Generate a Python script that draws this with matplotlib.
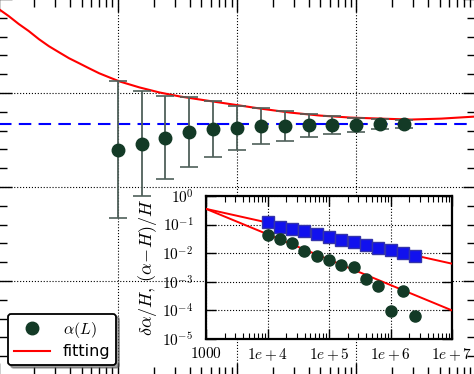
import numpy as np
import matplotlib
matplotlib.use("Agg")
import matplotlib.pyplot as plt
from matplotlib.ticker import LogLocator, MultipleLocator, NullFormatter

plt.rcParams["mathtext.fontset"] = "cm"

# main panel: alpha(L) with error bars
L = [10000, 15849, 25119, 39811, 63096, 100000, 158489, 251189,
     398107, 630957, 1000000, 1584893, 2511886]
alpha = [0.8396, 0.8460, 0.8524, 0.8588, 0.8620, 0.8631, 0.8645,
         0.8649, 0.8656, 0.8661, 0.8663, 0.8665, 0.8665]
alpha_err = [0.0727, 0.0556, 0.0439, 0.0374, 0.0299, 0.0235, 0.0193,
             0.0155, 0.0123, 0.0096, 0.0075, 0.0053, 0.0043]
H = 0.8668

# fitted curve (log10 L, alpha)
fit_logL = [3.0, 3.084, 3.169, 3.253, 3.338, 3.422, 3.506, 3.591, 3.675,
            3.759, 3.844, 3.928, 4.013, 4.181, 4.350, 4.519, 4.688, 4.857,
            5.025, 5.194, 5.447, 5.700, 5.954, 6.207, 6.460, 6.713, 7.0]
fit_alpha = [0.9893, 0.9818, 0.9733, 0.9658, 0.9572, 0.9497, 0.9433,
             0.9369, 0.9316, 0.9262, 0.9209, 0.9166, 0.9123, 0.9059,
             0.9005, 0.8963, 0.8930, 0.8898, 0.8866, 0.8834, 0.8791,
             0.8759, 0.8738, 0.8727, 0.8717, 0.8727, 0.8749]

# inset: relative deviations
rel_err = [0.120, 0.0813, 0.0692, 0.0575, 0.0457, 0.0363, 0.0295, 0.0240,
           0.0195, 0.0158, 0.0126, 0.0100, 0.0081]
rel_dev = [0.0417, 0.0316, 0.0224, 0.0120, 0.0081, 0.0059, 0.0039, 0.0032,
           0.00123, 0.00074, 9.8e-5, 4.6e-4, 6.5e-5]
line_L = [1e3, 1e7]
line_err = [0.355, 0.0043]
line_dev = [0.355, 1.0e-4]

fig = plt.figure(figsize=(4.74, 3.74), dpi=100)
ax = fig.add_axes([-0.003, -0.003, 1.006, 1.006])

fit_line, = ax.plot(10 ** np.array(fit_logL), fit_alpha, color="red",
                    lw=1.5, zorder=3)
ax.axhline(H, color="blue", lw=1.5, ls="--", dashes=(6, 3.5), zorder=2)
ax.errorbar(L, alpha, yerr=alpha_err, fmt="none", ecolor="#4f605a",
            elinewidth=1.3, capsize=6.5, capthick=1.2, zorder=4)
pts, = ax.plot(L, alpha, "o", color="#133a26", ms=9, mec="#133a26",
               zorder=5)

ax.set_xscale("log")
ax.set_xlim(1e3, 1e7)
ax.set_ylim(0.6, 1.0)
ax.yaxis.set_major_locator(MultipleLocator(0.1))
ax.yaxis.set_minor_locator(MultipleLocator(0.02))
ax.xaxis.set_minor_locator(LogLocator(base=10, subs=np.arange(2, 10)))
ax.tick_params(which="both", direction="in", top=True, right=True,
               labelbottom=False, labelleft=False)
ax.tick_params(which="major", length=9, width=1)
ax.tick_params(which="minor", length=5.5, width=1)
ax.grid(True, which="major", color="black", ls=":", lw=0.8)

leg = ax.legend([pts, fit_line], [r"$\alpha(L)$", "fitting"],
                loc="lower left", bbox_to_anchor=(8 / 474, 9 / 374),
                bbox_transform=fig.transFigure, borderaxespad=0,
                fancybox=True, shadow=True, framealpha=1, fontsize=11.5,
                handlelength=2.3, borderpad=0.35, labelspacing=0.3,
                handletextpad=0.8)
leg.get_frame().set_edgecolor("black")
leg.get_frame().set_linewidth(1.3)

# inset
ins = fig.add_axes([206 / 474, 35 / 374, 246 / 474, 143 / 374])
ins.plot(line_L, line_err, color="red", lw=1.4, zorder=3)
ins.plot(line_L, line_dev, color="red", lw=1.4, zorder=3)
ins.plot(L, rel_err, "s", color="#1111ee", mec="#3333aa", ms=8.5, zorder=4)
ins.plot(L, rel_dev, "o", color="#133a26", mec="#133a26", ms=8, zorder=4)
ins.set_xscale("log")
ins.set_yscale("log")
ins.set_xlim(1e3, 1e7)
ins.set_ylim(1e-5, 1)
ins.set_xticks([1e3, 1e4, 1e5, 1e6, 1e7])
ins.set_xticklabels([r"$1000$", r"$1e+4$", r"$1e+5$", r"$1e+6$", r"$1e+7$"],
                    fontsize=11)
ins.set_yticks([1e-5, 1e-4, 1e-3, 1e-2, 1e-1, 1])
ins.set_yticklabels([r"$10^{-5}$", r"$10^{-4}$", r"$10^{-3}$", r"$10^{-2}$",
                     r"$10^{-1}$", r"$10^{0}$"], fontsize=11)
ins.xaxis.set_minor_locator(LogLocator(base=10, subs=np.arange(2, 10)))
ins.yaxis.set_minor_locator(LogLocator(base=10, subs=np.arange(2, 10)))
ins.xaxis.set_minor_formatter(NullFormatter())
ins.yaxis.set_minor_formatter(NullFormatter())
ins.tick_params(which="both", direction="in", top=True, right=True)
ins.tick_params(which="major", length=7, width=1)
ins.tick_params(axis="x", which="major", pad=5)
ins.tick_params(axis="y", which="major", pad=9)
ins.tick_params(which="minor", length=4.5, width=0.8)
ins.grid(True, which="major", color="black", ls=":", lw=0.8)
for s in ins.spines.values():
    s.set_linewidth(1.6)
ins.set_ylabel(r"$\delta\alpha/H,\, (\alpha\!-\!H)/H$", fontsize=13,
               labelpad=2)

fig.savefig("out.png", dpi=100)
